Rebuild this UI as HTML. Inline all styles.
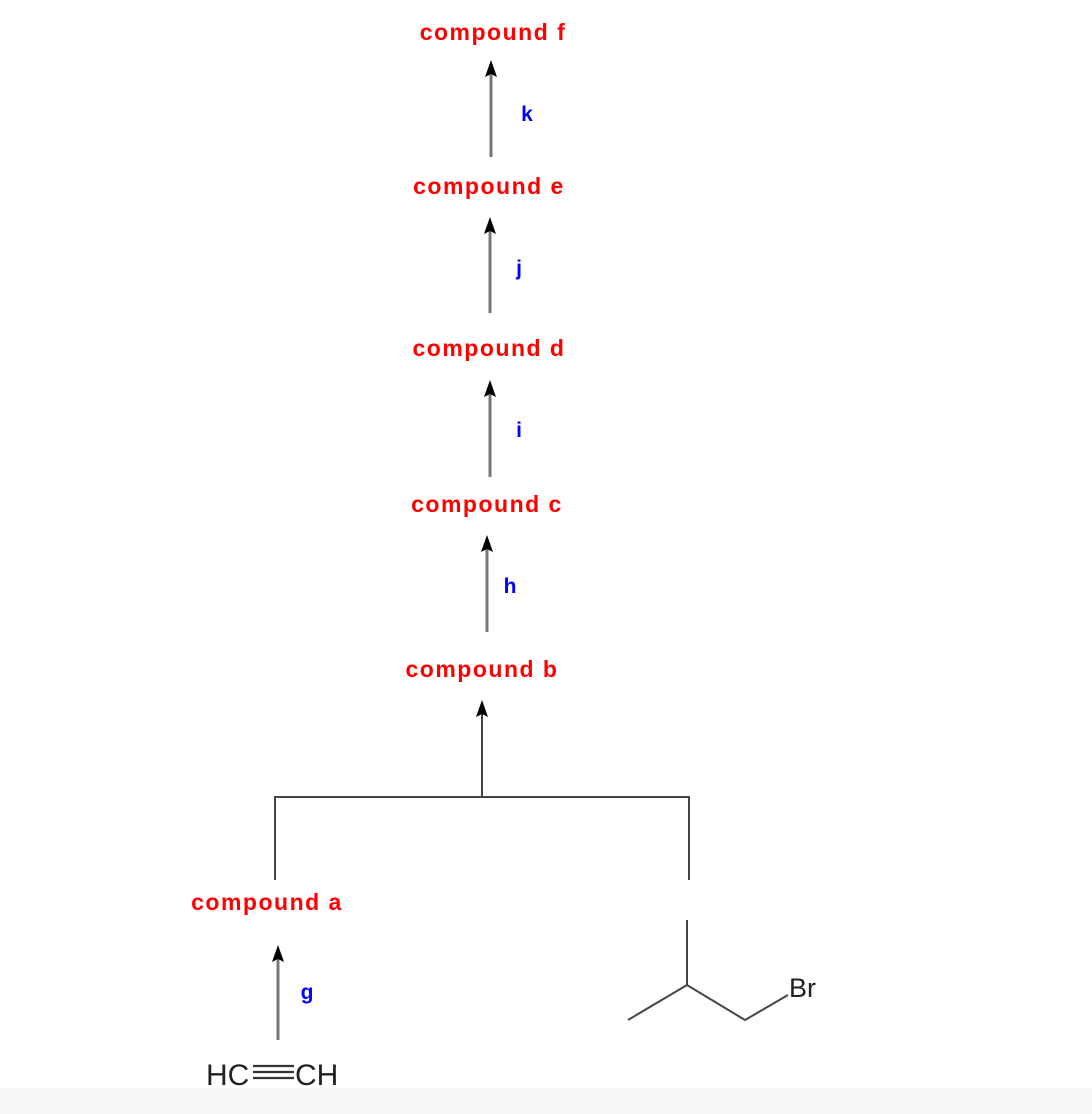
<!DOCTYPE html>
<html><head><style>body{margin:0;background:#fff}svg{display:block}</style></head><body>
<svg width="1092" height="1114" viewBox="0 0 1092 1114" xmlns="http://www.w3.org/2000/svg">
<rect x="0" y="1088" width="1092" height="26" fill="#f7f7f7"/>
<g font-family="Liberation Sans, sans-serif" font-weight="bold" font-size="23" letter-spacing="1.5" fill="#ff0000" text-anchor="middle">
<text x="493" y="40">compound f</text>
<text x="489" y="194">compound e</text>
<text x="489" y="356">compound d</text>
<text x="487" y="512">compound c</text>
<text x="482" y="677">compound b</text>
<text x="267" y="910">compound a</text>
</g>
<g font-family="Liberation Sans, sans-serif" font-weight="bold" font-size="21" fill="#0000ff" text-anchor="middle">
<text x="527" y="121">k</text>
<text x="519" y="275">j</text>
<text x="519" y="437">i</text>
<text x="510" y="593">h</text>
<text x="307" y="999">g</text>
</g>
<g stroke="#777" stroke-width="3">
<line x1="491" y1="157" x2="491" y2="74"/>
<line x1="490" y1="313" x2="490" y2="231"/>
<line x1="490" y1="477" x2="490" y2="394"/>
<line x1="487" y1="632" x2="487" y2="549"/>
<line x1="278" y1="1040" x2="278" y2="959"/>
</g>
<g stroke="#444" stroke-width="2" fill="none">
<line x1="482" y1="797" x2="482" y2="714"/>
<polyline points="275,880 275,797 689,797 689,880"/>
<line x1="687" y1="920" x2="687" y2="985"/>
<polyline points="628,1020 687,985 745,1020 788,995"/>
</g>
<g fill="#000">
<path d="M491 60 L497 77 L491 74 L485 77 Z"/>
<path d="M490 217 L496 234 L490 231 L484 234 Z"/>
<path d="M490 380 L496 397 L490 394 L484 397 Z"/>
<path d="M487 535 L493 552 L487 549 L481 552 Z"/>
<path d="M482 700 L488 717 L482 714 L476 717 Z"/>
<path d="M278 945 L284 962 L278 959 L272 962 Z"/>
</g>
<g font-family="Liberation Sans, sans-serif" font-size="30" fill="#222">
<text x="206" y="1085">HC</text>
<text x="295" y="1085">CH</text>
<text x="789" y="997" font-size="27">Br</text>
</g>
<g stroke="#333" stroke-width="2.2">
<line x1="253" y1="1066" x2="294" y2="1066"/>
<line x1="253" y1="1072" x2="294" y2="1072"/>
<line x1="253" y1="1078" x2="294" y2="1078"/>
</g>
</svg>
</body></html>
